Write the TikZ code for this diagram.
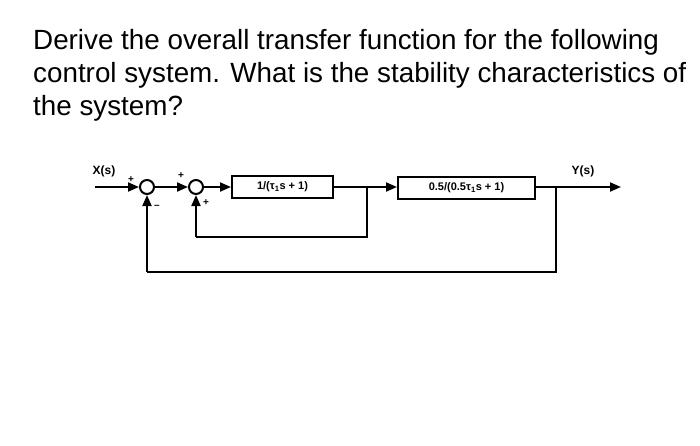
\documentclass[tikz,border=0pt]{standalone}
\usepackage{fontspec}
\setmainfont{Liberation Sans}
\usetikzlibrary{arrows.meta}
\newcommand{\mytau}{τ\textsubscript{1}}
\begin{document}
\begin{tikzpicture}[x=1pt,y=-1pt,
  line/.style={line width=2pt},
  arr/.style={line width=2pt,-{Triangle[length=11pt,width=9pt]}},
  sumnode/.style={circle,draw,line width=2pt,minimum size=14pt,inner sep=0pt},
  blk/.style={draw,line width=2pt,minimum height=22pt,inner sep=0pt,font=\bfseries\fontsize{11}{12}\selectfont},
  lbl/.style={font=\bfseries\fontsize{12}{14}\selectfont,inner sep=0pt},
  sgn/.style={font=\bfseries\fontsize{10}{11}\selectfont,inner sep=0pt},
  title/.style={anchor=base west,inner sep=0pt,font=\fontsize{27.8}{32}\selectfont}]
\useasboundingbox (0,0) rectangle (700,445);
\node[title] (t1) at (33,49) {Derive the overall transfer function for the following};
\node[title] (t2) at (33,82) {control system. What is the stability characteristics of};
\node[title] (t3) at (33,115) {the system?};
\coordinate (in) at (95,187);
\node[sumnode] (s1) at (147,187) {};
\node[sumnode] (s2) at (196,187) {};
\node[blk,minimum width=101pt] (b1) at (282.5,187) {1/(\mytau s + 1)};
\node[blk,minimum width=137pt] (b2) at (466.5,188) {0.5/(0.5\mytau s + 1)};
\coordinate (j1) at (367,187);
\coordinate (j2) at (556,187);
\coordinate (out) at (621,187);
\coordinate (f1) at (367,237);
\coordinate (f1b) at (196,237);
\coordinate (f2) at (556,272);
\coordinate (f2b) at (147,272);
\draw[arr] (in) -- (s1);
\draw[arr] (s1) -- (s2);
\draw[arr] (s2) -- (b1);
\draw[line] (b1.east) -- (j1);
\draw[arr] (j1) -- (b2.west |- j1);
\draw[line] (b2.east |- j2) -- (j2);
\draw[arr] (j2) -- (out);
\draw[line] (j1) -- (f1) -- (f1b);
\draw[arr] (f1b) -- (s2);
\draw[line] (j2) -- (f2) -- (f2b);
\draw[arr] (f2b) -- (s1);
\node[lbl] (x) at (104,171) {X(s)};
\node[lbl] (y) at (583,171) {Y(s)};
\node[sgn] (p1) at (131,180) {+};
\node[sgn] (p2) at (181,176) {+};
\node[sgn] (m1) at (157,207) {–};
\node[sgn] (p3) at (206,203) {+};
\end{tikzpicture}
\end{document}
